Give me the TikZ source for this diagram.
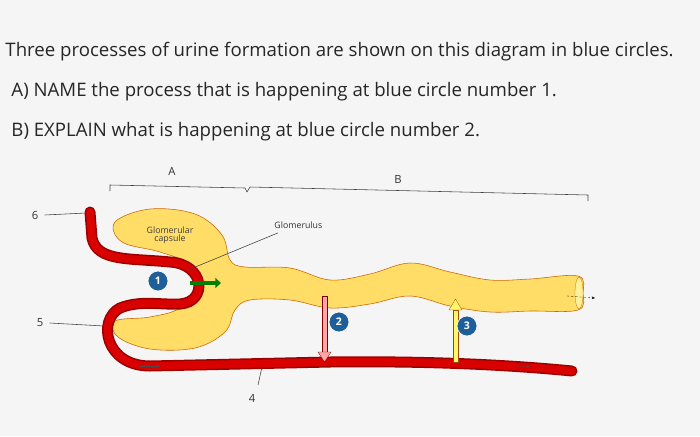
\documentclass[tikz,border=0pt]{standalone}
\usepackage{fontspec}
\setmainfont{Open Sans}
\usetikzlibrary{arrows.meta}
\definecolor{numblue}{HTML}{1F5F99}
\begin{document}
\begin{tikzpicture}[x=0.05cm,y=-0.05cm,
  q/.style={font=\fontsize{26.5}{30}\selectfont, anchor=base west, text=black!85},
  sm/.style={font=\fontsize{16}{18}\selectfont, text=black!80},
  num/.style={circle, fill=numblue, draw=white, line width=1pt, minimum size=1cm, inner sep=0pt, text=white, font=\bfseries\fontsize{15}{17}\selectfont},
  lead/.style={draw=black!75, line width=0.8pt}]
\fill[black!4] (0,0) rectangle (700,436);
\node[q] (t1) at (3,56) {Three processes of urine formation are shown on this diagram in blue circles.};
\node[q] (t2) at (9,96) {A) NAME the process that is happening at blue circle number 1.};
\node[q] (t3) at (9,136) {B) EXPLAIN what is happening at blue circle number 2.};
% brackets
\draw[lead] (110,191) -- (110,185) -- (245,188) -- (247,192);
\draw[lead] (247,192) -- (250,187) -- (588,195) -- (588,201);
\node[sm] (la) at (172,171) {A};
\node[sm] (lb) at (398,179) {B};
% capsule + tubule
\filldraw[fill=orange!45!yellow!60, draw=orange!80!black, line width=0.8pt]
 plot[smooth cycle, tension=0.6] coordinates{(115,222)(150,209)(195,214)(222,235)(230,260)(245,267)(290,268)(330,280)(370,274)(410,263)(450,272)(490,280)(530,279)(578,276)(583,293)(578,310)(530,311)(490,312)(450,306)(410,296)(370,304)(330,308)(290,300)(250,300)(235,310)(225,332)(195,348)(150,349)(118,337)(115,321)(150,317)(180,308)(198,285)(192,265)(160,252)(122,242)};
\draw[orange!80!black, fill=orange!30!yellow!40] (579,293) ellipse (4 and 16);
% vessel
\foreach \c/\w in {red!60!black/11, red!85!black/8}{
\draw[\c, line width=\w*0.05cm, line cap=round] (90,212) -- (92,238) .. controls (97,262) and (130,258) .. (170,262)
 .. controls (205,264) and (208,302) .. (180,304) .. controls (160,305) and (140,300) .. (120,308)
 .. controls (97,320) and (105,366) .. (150,366) -- (330,362) .. controls (420,361) and (500,364) .. (572,371);}
% labels
\node[sm] (l6) at (35,215) {6};
\draw[lead] (l6.east) ++(4,0) -- (86,213);
\node[sm] (l5) at (40,323) {5};
\draw[lead] (l5.east) ++(4,0) -- (104,326);
\node[sm] (l4) at (252,398) {4};
\draw[lead] (258,385) -- (262,367);
\node[sm, align=center, font=\fontsize{12.5}{12}\selectfont, text=black!75] (gc) at (170,235) {Glomerular\\capsule};
\node[sm, anchor=west, font=\fontsize{12.5}{14}\selectfont] (gl) at (272,225) {Glomerulus};
\draw[lead] (gl.south west) ++(6,2) -- (188,270);
% arrows
\draw[green!50!black, line width=5pt, -{Triangle[length=8pt,width=14pt]}] (190,283) -- (221,283);
\draw[red!50!black, fill=red!35, line width=0.5pt] (322,296) rectangle (327,352);
\draw[red!50!black, fill=red!35] (318,352) -- (331,352) -- (324.5,362) -- cycle;
\draw[orange!60!black, fill=yellow!60, line width=0.5pt] (453,310) rectangle (458,362);
\draw[orange!60!black, fill=yellow!60] (449,310) -- (462,310) -- (455.5,299) -- cycle;
\draw[black, dashed, -{Stealth}] (567,296) -- (595,298);
\draw[black!70, -{Stealth}] (505,365) -- (530,367);
\draw[black!70, -{Stealth}] (140,366) -- (160,366);
\node[num] (n1) at (158,281) {1};
\node[num] (n2) at (339,322) {2};
\node[num] (n3) at (467,326) {3};
\end{tikzpicture}
\end{document}
